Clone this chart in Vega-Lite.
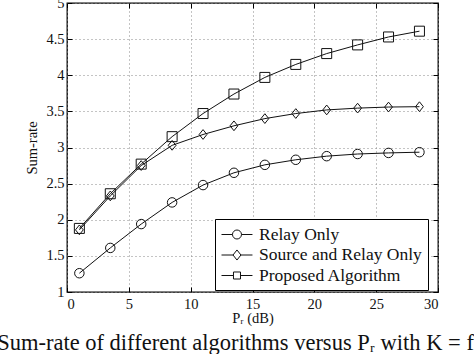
{
  "$schema": "https://vega.github.io/schema/vega-lite/v6.json",
  "width": 371,
  "height": 289,
  "autosize": {"type": "none"},
  "padding": {"left": 67, "top": 3, "right": 36, "bottom": 62},
  "background": "white",
  "config": {
    "font": "Liberation Serif",
    "view": {"stroke": "#000", "strokeWidth": 1.3},
    "axis": {
      "labelFont": "Liberation Serif",
      "labelFontSize": 14.5,
      "labelColor": "#111",
      "titleFont": "Liberation Serif",
      "titleFontSize": 14.5,
      "titleFontWeight": "normal",
      "titleColor": "#111",
      "gridColor": "#888",
      "gridDash": [1, 3],
      "gridWidth": 1,
      "tickColor": "#000",
      "tickSize": -5,
      "domain": false
    }
  },
  "title": {
    "text": "Sum-rate of different algorithms versus Pᵣ with K = f",
    "orient": "bottom",
    "fontSize": 22.5,
    "fontWeight": "normal",
    "font": "Liberation Serif",
    "color": "#111",
    "offset": 7,
    "dx": -17
  },
  "data": {
    "values": [
      {"x": 1, "y": 1.26, "series": "Relay Only"},
      {"x": 3.5, "y": 1.61, "series": "Relay Only"},
      {"x": 6, "y": 1.94, "series": "Relay Only"},
      {"x": 8.5, "y": 2.24, "series": "Relay Only"},
      {"x": 11, "y": 2.48, "series": "Relay Only"},
      {"x": 13.5, "y": 2.65, "series": "Relay Only"},
      {"x": 16, "y": 2.76, "series": "Relay Only"},
      {"x": 18.5, "y": 2.83, "series": "Relay Only"},
      {"x": 21, "y": 2.88, "series": "Relay Only"},
      {"x": 23.5, "y": 2.91, "series": "Relay Only"},
      {"x": 26, "y": 2.925, "series": "Relay Only"},
      {"x": 28.5, "y": 2.935, "series": "Relay Only"},
      {"x": 1, "y": 1.86, "series": "Source and Relay Only"},
      {"x": 3.5, "y": 2.33, "series": "Source and Relay Only"},
      {"x": 6, "y": 2.75, "series": "Source and Relay Only"},
      {"x": 8.5, "y": 3.03, "series": "Source and Relay Only"},
      {"x": 11, "y": 3.18, "series": "Source and Relay Only"},
      {"x": 13.5, "y": 3.3, "series": "Source and Relay Only"},
      {"x": 16, "y": 3.4, "series": "Source and Relay Only"},
      {"x": 18.5, "y": 3.47, "series": "Source and Relay Only"},
      {"x": 21, "y": 3.52, "series": "Source and Relay Only"},
      {"x": 23.5, "y": 3.545, "series": "Source and Relay Only"},
      {"x": 26, "y": 3.56, "series": "Source and Relay Only"},
      {"x": 28.5, "y": 3.565, "series": "Source and Relay Only"},
      {"x": 1, "y": 1.88, "series": "Proposed Algorithm"},
      {"x": 3.5, "y": 2.36, "series": "Proposed Algorithm"},
      {"x": 6, "y": 2.77, "series": "Proposed Algorithm"},
      {"x": 8.5, "y": 3.15, "series": "Proposed Algorithm"},
      {"x": 11, "y": 3.47, "series": "Proposed Algorithm"},
      {"x": 13.5, "y": 3.74, "series": "Proposed Algorithm"},
      {"x": 16, "y": 3.97, "series": "Proposed Algorithm"},
      {"x": 18.5, "y": 4.15, "series": "Proposed Algorithm"},
      {"x": 21, "y": 4.3, "series": "Proposed Algorithm"},
      {"x": 23.5, "y": 4.42, "series": "Proposed Algorithm"},
      {"x": 26, "y": 4.53, "series": "Proposed Algorithm"},
      {"x": 28.5, "y": 4.61, "series": "Proposed Algorithm"}
    ]
  },
  "layer": [
    {
      "mark": {"type": "line", "color": "#111", "strokeWidth": 1},
      "encoding": {
        "x": {"field": "x", "type": "quantitative", "scale": {"domain": [0, 30], "nice": false},
              "axis": {"orient": "bottom", "values": [0, 5, 10, 15, 20, 25, 30], "title": "Pᵣ (dB)", "labelPadding": 10, "titlePadding": 1, "grid": true}},
        "y": {"field": "y", "type": "quantitative", "scale": {"domain": [1, 5], "nice": false, "zero": false},
              "axis": {"orient": "left", "values": [1, 1.5, 2, 2.5, 3, 3.5, 4, 4.5, 5], "format": "~g", "title": "Sum-rate", "labelPadding": 8, "titlePadding": 6, "grid": true}},
        "detail": {"field": "series"}
      }
    },
    {
      "mark": {"type": "point", "filled": false, "color": "#111", "strokeWidth": 1, "opacity": 1},
      "encoding": {
        "x": {"field": "x", "type": "quantitative", "axis": null},
        "y": {"field": "y", "type": "quantitative", "axis": null},
        "shape": {"field": "series", "type": "nominal",
                  "scale": {"domain": ["Relay Only", "Source and Relay Only", "Proposed Algorithm"],
                            "range": ["circle", "M0,-1L0.8,0L0,1L-0.8,0Z", "square"]},
                  "legend": null},
        "size": {"field": "series", "type": "nominal",
                 "scale": {"domain": ["Relay Only", "Source and Relay Only", "Proposed Algorithm"], "range": [90, 100, 64]},
                 "legend": null}
      }
    },
    {
      "mark": {"type": "point", "filled": false, "color": "#111", "opacity": 0},
      "encoding": {
        "x": {"field": "x", "type": "quantitative",
              "axis": {"orient": "top", "values": [0, 5, 10, 15, 20, 25, 30], "labels": false, "title": null, "grid": false}},
        "y": {"field": "y", "type": "quantitative",
              "axis": {"orient": "right", "values": [1, 1.5, 2, 2.5, 3, 3.5, 4, 4.5, 5], "labels": false, "title": null, "grid": false}},
        "shape": {"field": "series", "type": "nominal",
                  "scale": {"domain": ["Relay Only", "Source and Relay Only", "Proposed Algorithm"],
                            "range": [
                              "M-1,0H0.22M1.22,0H2.44M0.22,0A0.5,0.5,0,1,1,1.22,0A0.5,0.5,0,1,1,0.22,0",
                              "M-1,0H0.28M1.16,0H2.44M0.28,0L0.72,-0.56L1.16,0L0.72,0.56Z",
                              "M-1,0H0.33M1.11,0H2.44M0.33,-0.39H1.11V0.39H0.33Z"
                            ]},
                  "legend": {
                    "title": null,
                    "orient": "none",
                    "legendX": 148,
                    "legendY": 216,
                    "direction": "vertical",
                    "strokeColor": "#000",
                    "fillColor": "white",
                    "padding": 6,
                    "symbolSize": 324,
                    "symbolOpacity": 1,
                    "symbolStrokeColor": "#111",
                    "symbolFillColor": "transparent",
                    "symbolStrokeWidth": 1,
                    "labelFont": "Liberation Serif",
                    "labelFontSize": 17.5,
                    "labelColor": "#111",
                    "labelOffset": 19,
                    "labelLimit": 0,
                    "rowPadding": 2.5
                  }}
      }
    }
  ],
  "resolve": {"scale": {"shape": "independent"}, "axis": {"x": "independent", "y": "independent"}}
}
